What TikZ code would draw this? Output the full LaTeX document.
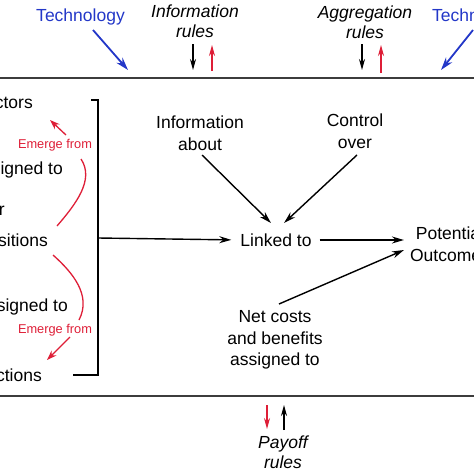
\documentclass[tikz,border=0pt]{standalone}
\usepackage{fontspec}
\setmainfont{Liberation Sans}
\usetikzlibrary{arrows.meta}
\definecolor{techblue}{RGB}{35,55,200}
\definecolor{emred}{RGB}{222,30,55}
\definecolor{rulegray}{RGB}{60,60,60}
\begin{document}
\begin{tikzpicture}[x=1pt,y=-1pt,
  lbl/.style={inner sep=0pt, font=\fontsize{17.5}{21.5}\selectfont, align=center},
  ital/.style={inner sep=0pt, font=\fontsize{17.5}{20.5}\selectfont\itshape, align=center},
  tech/.style={lbl, text=techblue},
  emtxt/.style={inner sep=0pt, font=\fontsize{12.8}{14}\selectfont, text=emred},
  arr/.style={line width=1.4pt, -{Stealth[length=12pt,width=7pt]}},
  blk/.style={line width=1.4pt, -{Stealth[length=11pt,width=6pt]}},
  redarr/.style={line width=1.4pt, emred, -{Stealth[length=11pt,width=6pt]}},
  bluearr/.style={line width=1.8pt, techblue, -{Stealth[length=13pt,width=8pt]}},
  curve/.style={line width=1.3pt, emred},
  emarr/.style={line width=1.3pt, emred, -{Stealth[length=10pt,width=7pt]}},
  bar/.style={line width=1.8pt, rulegray}
]
\useasboundingbox (0,0) rectangle (474,474);
% separating lines
\coordinate (tl) at (0,78); \coordinate (tr) at (474,78);
\coordinate (bl) at (0,396); \coordinate (br) at (474,396);
\draw[bar] (tl) -- (tr);
\draw[bar] (bl) -- (br);
% top labels
\node[tech] (tech1) at (80.5,17) {Technology};
\node[tech, anchor=west] (tech2) at (432,17) {Technology};
\node[ital] (inforules) at (195,21) {Information\\rules};
\node[ital] (aggrules) at (365,22) {Aggregation\\rules};
\coordinate (t1a) at (93,30); \coordinate (t1b) at (128,70);
\coordinate (t2a) at (473,30); \coordinate (t2b) at (441,70);
\draw[bluearr] (t1a) -- (t1b);
\draw[bluearr] (t2a) -- (t2b);
\coordinate (ia) at (193,44); \coordinate (ib) at (193,70);
\coordinate (ic) at (212,71); \coordinate (id) at (212,45);
\draw[blk] (ia) -- (ib);
\draw[redarr] (ic) -- (id);
\coordinate (aa) at (362,44); \coordinate (ab) at (362,70);
\coordinate (ac) at (381,73); \coordinate (ad) at (381,45);
\draw[blk] (aa) -- (ab);
\draw[redarr] (ac) -- (ad);
% left column (clipped by the picture's edge)
\node[lbl, anchor=east] (actors) at (33,103) {Actors};
\node[lbl, anchor=east] (asg1) at (63,170) {Assigned to};
\node[lbl, anchor=east] (rfrag) at (5,211) {r};
\node[lbl, anchor=east] (positions) at (48,240) {Positions};
\node[lbl, anchor=east] (asg2) at (68,307) {Assigned to};
\node[lbl, anchor=east] (actions) at (42,375) {Actions};
% emerge from
\node[emtxt] (em1) at (55,145) {Emerge from};
\node[emtxt] (em2) at (55,330) {Emerge from};
\coordinate (c1a) at (57,226); \coordinate (c1b) at (81,159);
\draw[curve] (c1a) .. controls (75,205) and (95,180) .. (c1b);
\coordinate (e1a) at (66,135); \coordinate (e1b) at (50,120);
\draw[emarr] (e1a) -- (e1b);
\coordinate (c2a) at (53,255); \coordinate (c2b) at (79,320);
\draw[curve] (c2a) .. controls (72,272) and (92,295) .. (c2b);
\coordinate (e2a) at (70,337); \coordinate (e2b) at (47,360);
\draw[emarr] (e2a) -- (e2b);
% bracket
\coordinate (k1) at (91,100); \coordinate (k2) at (98,100);
\coordinate (k3) at (98,375); \coordinate (k4) at (73,375);
\coordinate (kmid) at (98,238);
\draw[line width=1.3pt] (k1) -- (k2) -- (k3) -- (k4);
% central part
\node[lbl] (linked) at (276,240) {Linked to};
\node[lbl] (info) at (200,133) {Information\\about};
\node[lbl] (control) at (355,131) {Control\\over};
\node[lbl] (potential) at (450,244) {Potential\\Outcomes};
\node[lbl] (netcost) at (275,340) {Net costs\\and benefits\\assigned to};
\coordinate (inA) at (271,223);
\coordinate (inB) at (284,223);
\coordinate (infoS) at (202,155);
\coordinate (ctrlS) at (357,155);
\coordinate (ncS) at (279,304);
\coordinate (outIn) at (404,250);
\draw[arr] (infoS) -- (inA);
\draw[arr] (ctrlS) -- (inB);
\draw[arr, shorten >=9pt] (kmid) -- (linked.west);
\draw[arr, shorten <=8pt, shorten >=6pt] (linked.east) -- (potential.west |- linked.east);
\draw[arr] (ncS) -- (outIn);
% payoff
\node[ital] (payoff) at (283,452) {Payoff\\rules};
\coordinate (pa) at (267,405); \coordinate (pb) at (267,429);
\coordinate (pc) at (284,430); \coordinate (pd) at (284,405);
\draw[redarr] (pa) -- (pb);
\draw[blk] (pc) -- (pd);
\end{tikzpicture}
\end{document}
